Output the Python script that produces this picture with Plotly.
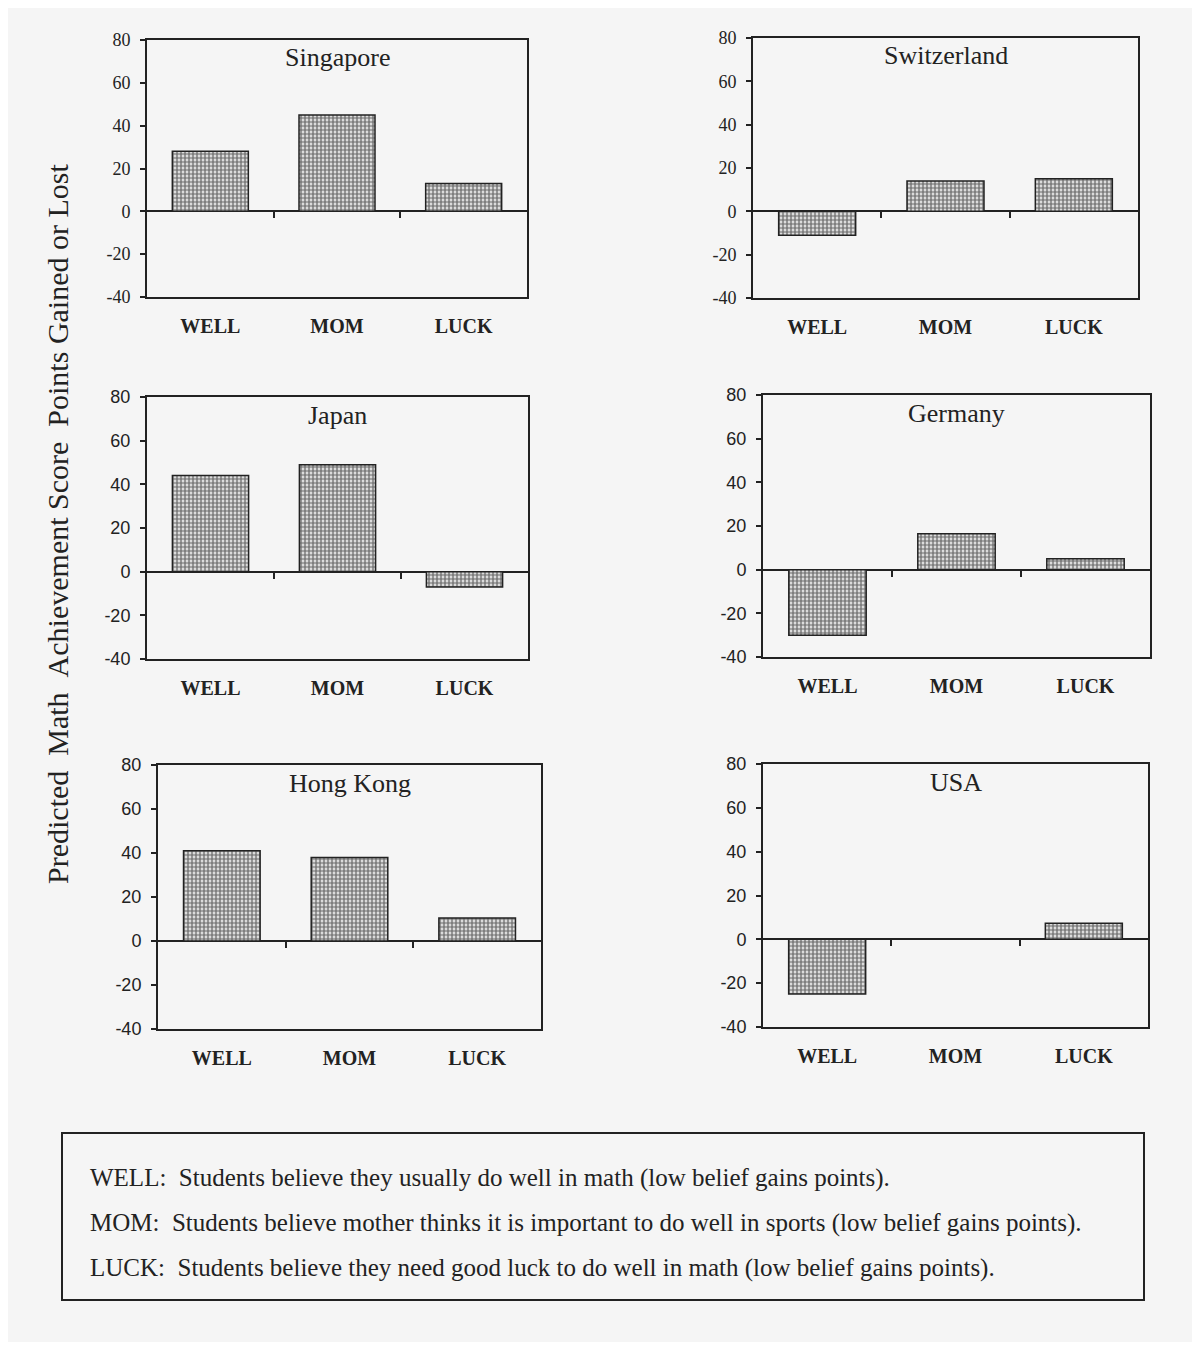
import plotly.graph_objects as go

# ---------------- data ----------------
categories = ["WELL", "MOM", "LUCK"]
countries = ["Singapore", "Switzerland", "Japan", "Germany", "Hong Kong", "USA"]
singapore = [28, 45, 13]
switzerland = [-11, 14, 15]
japan = [44, 49, -7]
germany = [-30, 16.5, 5]
hong_kong = [41, 38, 10.5]
usa = [-25, 0, 7.3]
y_ticks = [-40, -20, 0, 20, 40, 60, 80]
y_tick_labels = ["-40", "-20", "0", "20", "40", "60", "80"]
y_title = "Predicted\u00a0\u00a0Math\u00a0\u00a0Achievement Score\u00a0\u00a0Points Gained or Lost"
legend_lines = [
    "WELL:\u00a0\u00a0Students believe they usually do well in math (low belief gains points).",
    "MOM:\u00a0\u00a0Students believe mother thinks it is important to do well in sports (low belief gains points).",
    "LUCK:\u00a0\u00a0Students believe they need good luck to do well in math (low belief gains points).",
]

series = [singapore, switzerland, japan, germany, hong_kong, usa]

# ---------------- layout geometry (page pixels; page has an 8px body margin) ----------------
OFF = 8
W, H = 1200 - 2 * OFF, 1350 - 2 * OFF


def px(x):
    return (x - OFF) / W


def py(y):
    return 1 - (y - OFF) / H


# left, right, top, bottom in page pixels for each panel
boxes = [
    (147, 527, 40, 297),
    (753, 1138, 38, 298),
    (147, 528, 397, 659),
    (763, 1150, 395, 657),
    (158, 541, 765, 1029),
    (763, 1148, 764, 1027),
]
tick_fonts = ["Liberation Serif", "Liberation Serif", "Liberation Sans",
              "Liberation Sans", "Liberation Sans", "Liberation Sans"]

BG = "#f5f5f5"
INK = "#222222"
YMIN, YMAX = -40, 80

fig = go.Figure()
layout = {}

for i, (name, vals, box, tf) in enumerate(zip(countries, series, boxes, tick_fonts)):
    l, r, t, b = box
    xd = [px(l), px(r)]
    yd = [py(b), py(t)]
    n = i + 1
    xa = "x" if n == 1 else f"x{n}"
    ya = "y" if n == 1 else f"y{n}"
    xk = "xaxis" if n == 1 else f"xaxis{n}"
    yk = "yaxis" if n == 1 else f"yaxis{n}"
    ov = 6 + n  # overlay axis index for boundary ticks
    xok = f"xaxis{ov}"
    xoa = f"x{ov}"

    fig.add_trace(go.Bar(
        x=categories, y=vals, xaxis=xa, yaxis=ya, width=0.6,
        marker=dict(color="white",
                    line=dict(color=INK, width=1.5),
                    pattern=dict(shape=".", fgcolor="#000000", bgcolor="#ffffff",
                                 size=4, solidity=0.7)),
        showlegend=False, hoverinfo="x+y",
    ))
    fig.add_trace(go.Scatter(x=[-0.5, 2.5], y=[0, 0], xaxis=xoa, yaxis=ya,
                             mode="lines", line=dict(width=0), showlegend=False,
                             hoverinfo="skip"))

    layout[xk] = dict(
        domain=xd, anchor=ya, type="category", range=[-0.5, 2.5],
        showline=True, mirror=True, linecolor=INK, linewidth=2,
        ticks="", showgrid=False, automargin=False,
        tickfont=dict(family="Liberation Serif", size=20, color=INK, weight="bold"),
        ticklabelstandoff=10,
    )
    layout[yk] = dict(
        domain=yd, anchor=xa, range=[YMIN, YMAX], tickvals=y_ticks,
        ticktext=y_tick_labels, automargin=False,
        showline=True, mirror=True, linecolor=INK, linewidth=2,
        ticks="outside", ticklen=5, tickwidth=1.5, tickcolor=INK,
        showgrid=False, zeroline=True, zerolinecolor=INK, zerolinewidth=1.5,
        tickfont=dict(family=tf, size=18, color=INK),
        ticklabelstandoff=6,
    )
    zero_frac = (0 - YMIN) / (YMAX - YMIN)
    zero_paper = yd[0] + zero_frac * (yd[1] - yd[0])
    layout[xok] = dict(
        overlaying=xa, anchor="free", position=zero_paper, type="linear",
        range=[-0.5, 2.5], tickvals=[0.5, 1.5], ticks="outside", ticklen=6,
        tickwidth=2, tickcolor=INK, showticklabels=False, showline=False,
        showgrid=False, zeroline=False, automargin=False,
    )
    fig.add_annotation(
        text=name, xref=f"{xa} domain", yref=f"{ya} domain",
        x=0.5, y=1, yshift=-18, xanchor="center", yanchor="middle",
        showarrow=False,
        font=dict(family="Liberation Serif", size=26, color=INK),
    )

# y axis title
fig.add_annotation(
    text=y_title, xref="paper", yref="paper", x=px(57), y=py(524),
    textangle=-90, showarrow=False, xanchor="center", yanchor="middle",
    font=dict(family="Liberation Serif", size=30, color=INK),
)

# definitions box
fig.add_shape(type="rect", xref="paper", yref="paper",
              x0=px(62), x1=px(1144), y0=py(1300), y1=py(1133),
              line=dict(color=INK, width=2), fillcolor=BG, layer="below")
for k, line in enumerate(legend_lines):
    fig.add_annotation(
        text=line, xref="paper", yref="paper", x=px(88), y=py(1178 + 45 * k),
        xanchor="left", yanchor="middle", showarrow=False,
        font=dict(family="Liberation Serif", size=25, color=INK),
    )

fig.update_layout(
    width=W, height=H, margin=dict(l=0, r=0, t=0, b=0, autoexpand=False),
    paper_bgcolor=BG, plot_bgcolor=BG, showlegend=False,
    **layout,
)

fig.write_html("out.html")
